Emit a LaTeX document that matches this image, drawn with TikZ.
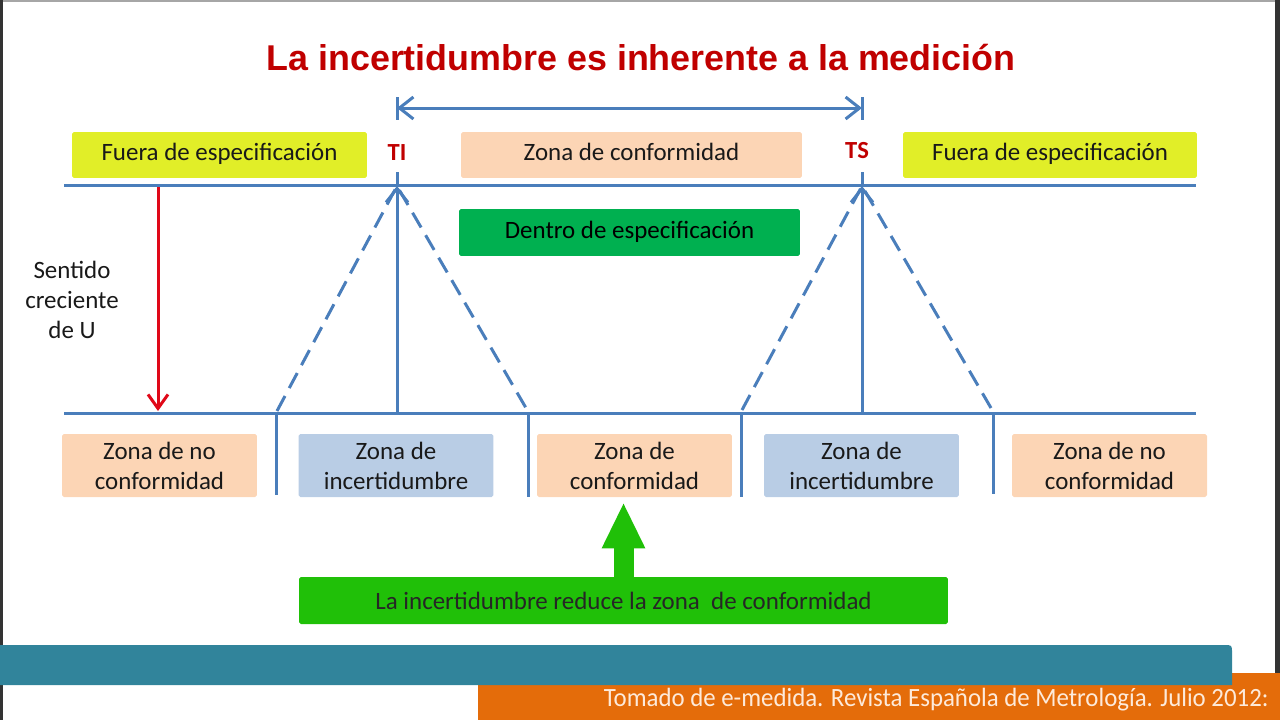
\documentclass[tikz,border=0pt]{standalone}
\usepackage{fontspec}
\setmainfont{Carlito}
\newfontfamily\titlefont{Liberation Sans}
\usepackage{xcolor}
\usepackage{graphicx}
\usetikzlibrary{arrows.meta,positioning}
\definecolor{lineblue}{RGB}{74,126,187}
\definecolor{peach}{RGB}{252,213,181}
\definecolor{paleblue}{RGB}{185,205,229}
\definecolor{specyellow}{RGB}{225,238,40}
\definecolor{dentrogreen}{RGB}{0,176,80}
\definecolor{reducegreen}{RGB}{32,192,8}
\definecolor{titlered}{RGB}{192,0,0}
\definecolor{arrowred}{RGB}{224,8,24}
\definecolor{bandteal}{RGB}{49,132,155}
\definecolor{bandorange}{RGB}{228,108,10}
\definecolor{sourcetext}{RGB}{253,234,218}

\begin{document}
\begin{tikzpicture}[
			x=0.02cm, y=-0.02cm,
			box/.style={rounded corners=1pt,inner sep=0pt,align=center,text=black!90,font=\fontsize{14.2}{17}\selectfont},
			topbox/.style={box,minimum height=0.92cm,text height=2ex,text depth=0.6ex},
			zonebox/.style={box,minimum width=3.9cm,minimum height=1.26cm},
			limit/.style={text=titlered,font=\fontsize{14}{16}\selectfont\bfseries},
			line/.style={lineblue,line width=0.06cm},
			dashline/.style={line,dash pattern=on 0.34cm off 0.18cm},
			tip/.style={-{Straight Barb[length=2.8mm,width=4.4mm]}},
			fatarrow/.style={reducegreen,line width=0.4cm,-{Triangle[length=9.2mm,width=8mm]},shorten >=0.1cm}
			]
			\useasboundingbox (0,0) rectangle (1280,720);
			\fill[black!35] (0,0) rectangle (1280,2);
			\fill[black!80] (0,0) rectangle (3,720);
			\fill[black!80] (1275,0) rectangle (1280,720);

			\node[font={\titlefont\fontsize{20.4}{24}\selectfont\bfseries},text=titlered] (title) at (641,58) {La incertidumbre es inherente a la medición};

			\node[topbox,fill=specyellow,minimum width=5.9cm] (fueraL) at (219.5,155) {Fuera de especificación};
			\node[topbox,fill=peach,minimum width=6.82cm] (zona) at (631.5,155) {Zona de conformidad};
			\node[topbox,fill=specyellow,minimum width=5.88cm] (fueraR) at (1050,155) {Fuera de especificación};
			\node[topbox,fill=dentrogreen,minimum width=6.82cm,minimum height=0.94cm,text=black] (dentro) at (629.5,232.5) {Dentro de especificación};
			\node[limit] (ti) at (397,153) {TI};
			\node[limit] (ts) at (857,151) {TS};

			\coordinate (topL) at (64,185);
			\coordinate (topR) at (1196,185);
			\coordinate (botL) at (64,413);
			\coordinate (botR) at (1196,413);
			\coordinate (tiTop) at (397,186);
			\coordinate (tiBot) at (397,413);
			\coordinate (tiEnd) at (397,172);
			\coordinate (tsTop) at (862,186);
			\coordinate (tsBot) at (862,413);
			\coordinate (tsEnd) at (862,172);
			\coordinate (rangeL) at (397,108);
			\coordinate (rangeR) at (862,108);
			\coordinate (dashA) at (277,411);
			\coordinate (dashB) at (526,408);
			\coordinate (dashC) at (742,410);
			\coordinate (dashD) at (991,408);
			\coordinate (redTop) at (158,187);
			\coordinate (redBot) at (158,411);

			\draw[line] (topL)--(topR);
			\draw[line] (botL)--(botR);
			\draw[line,tip] (tiBot)--(tiTop);
			\draw[line] (tiTop)--(tiEnd);
			\draw[line,tip] (tsBot)--(tsTop);
			\draw[line] (tsTop)--(tsEnd);
			\draw[dashline] (dashA)--(tiTop)--(dashB);
			\draw[dashline] (dashC)--(tsTop)--(dashD);
			\draw[line,{Straight Barb[length=2.8mm,width=4.4mm]}-{Straight Barb[length=2.8mm,width=4.4mm]}] (rangeL)--(rangeR);
			\draw[line] (rangeL) ++(0,-11) -- ++(0,23);
			\draw[line] (rangeR) ++(0,-11) -- ++(0,23);
			\draw[arrowred,line width=0.06cm,-{Straight Barb[length=2.8mm,width=4mm]}] (redTop)--(redBot);
			\node[align=center,font=\fontsize{14.2}{17}\selectfont,text=black!90] (sentido) at (72,300) {Sentido\\creciente\\de U};

			\node[zonebox,fill=peach] (noconfL) at (159.5,465.5) {Zona de no\\conformidad};
			\node[zonebox,fill=paleblue] (incL) at (396,465.5) {Zona de\\incertidumbre};
			\node[zonebox,fill=peach] (conf) at (634.5,465.5) {Zona de\\conformidad};
			\node[zonebox,fill=paleblue] (incR) at (861.5,465.5) {Zona de\\incertidumbre};
			\node[zonebox,fill=peach] (noconfR) at (1109.5,465.5) {Zona de no\\conformidad};
			\foreach \sx/\sy in {276/495,528/497,741/497,993/494}
				\draw[line] (\sx,413)--(\sx,\sy);

			\node[box,fill=reducegreen,minimum width=12.98cm,minimum height=0.94cm,text=black!85] (reduce) at (623.5,600.5) {La incertidumbre reduce la zona \ de conformidad};
			\draw[fatarrow] (reduce.north)--(reduce.north |- conf.south);

			\fill[bandorange] (478,673) rectangle (1280,720);
			\fill[bandteal] (0,645)--(1224,645) .. controls (1232,645) .. (1232,653)--(1232,685)--(0,685)--cycle;
			\node[anchor=east,inner sep=0pt,text=sourcetext,font=\fontsize{15}{17}\selectfont] (source) at (1269,700) {\resizebox{13.3cm}{\height}{Tomado de e-medida. Revista Española de Metrología. Julio 2012:}};
		\end{tikzpicture}
\end{document}
